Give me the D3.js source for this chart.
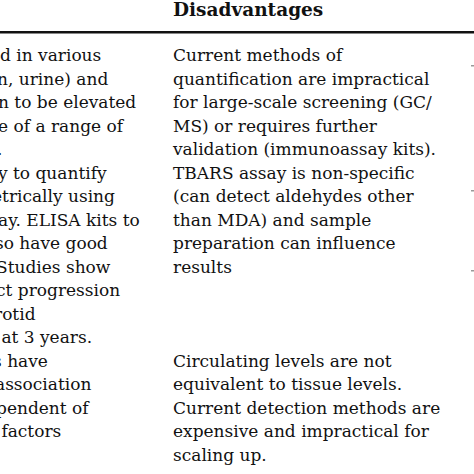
<!DOCTYPE html><html><head><meta charset="utf-8">
<script src="https://cdn.jsdelivr.net/npm/d3@7"></script>
<style>body{margin:0;background:#fff}</style></head><body><svg id="c" width="474" height="474"></svg>
<script>
const header = "Disadvantages";
const leftLines = [[0,"d in various"],[1,"n, urine) and"],[2,"n to be elevated"],[3,"e of a range of"],[4,"."],
 [5,"y to quantify"],[6,"etrically using"],[7,"ay. ELISA kits to"],[8,"so have good"],[9,"Studies show"],[10,"ct progression"],[11,"rotid"],[12," at 3 years."],
 [13,"s have"],[14,"association"],[15,"pendent of"],[16," factors"]];
const rightLines = [[0,"Current methods of"],[1,"quantification are impractical"],[2,"for large-scale screening (GC/"],[3,"MS) or requires further"],[4,"validation (immunoassay kits)."],[5,"TBARS assay is non-specific"],[6,"(can detect aldehydes other"],[7,"than MDA) and sample"],[8,"preparation can influence"],[9,"results"],
 [13,"Circulating levels are not"],[14,"equivalent to tissue levels."],[15,"Current detection methods are"],[16,"expensive and impractical for"],[17,"scaling up."]];
const leftX = [0,-3,-2,-2,-3,-2,-8,-2,-5,-4,-4,-6,-4,-7,-5,-4,-4];
const svg = d3.select("#c");
const y = d3.scaleLinear().domain([0,17]).range([61,461]);
const font = "'DejaVu Serif', serif";
svg.append("text").attr("x",173).attr("y",16).attr("font-family",font).attr("font-weight","bold").attr("font-size",18.5).attr("fill","#111").text(header);
svg.append("rect").attr("x",0).attr("y",31).attr("width",474).attr("height",2.5).attr("fill","#111");
function draw(lines,x0,xs){
  svg.selectAll(null).data(lines).join("text")
   .attr("x",(d,i)=>x0+(xs?xs[i]:0)).attr("y",d=>y(d[0]))
   .attr("font-family",font).attr("font-size",17).attr("fill","#111")
   .attr("xml:space","preserve").text(d=>d[1]);
}
draw(leftLines,0,leftX);
draw(rightLines,173,null);
svg.selectAll(null).data([65,190,270]).join("rect").attr("x",471).attr("y",d=>d).attr("width",3).attr("height",1.5).attr("fill","#999");
</script></body></html>
